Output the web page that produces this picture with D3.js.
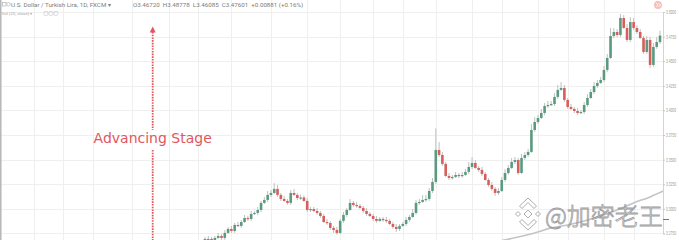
<!DOCTYPE html>
<html>
<head>
<meta charset="utf-8">
<script src="https://cdn.jsdelivr.net/npm/d3@7"></script>
<style>
  html, body { margin: 0; padding: 0; background: #fff; }
  svg { display: block; }
</style>
</head>
<body>
<div id="chart"></div>
<script>
// Daily closes, USD/TRY
var closes = [
  3.2684, 3.2694, 3.2673, 3.2704, 3.2724, 3.2704, 3.2755, 3.2795, 3.2775, 3.2836,
  3.2826, 3.2866, 3.2907, 3.2897, 3.2948, 3.2958, 3.2988, 3.3060, 3.3090, 3.3141,
  3.3161, 3.3202, 3.3141, 3.3100, 3.3080, 3.3060, 3.3161, 3.3141, 3.3110, 3.3115,
  3.3080, 3.2988, 3.2998, 3.2978, 3.2958, 3.2927, 3.2866, 3.2856, 3.2806, 3.2785,
  3.2755, 3.2877, 3.2938, 3.2988, 3.3060, 3.3039, 3.3029, 3.3009, 3.2978, 3.2948,
  3.2927, 3.2897, 3.2877, 3.2897, 3.2887, 3.2877, 3.2846, 3.2816, 3.2795, 3.2826,
  3.2846, 3.2887, 3.2917, 3.2958, 3.3060, 3.3070, 3.3090, 3.3100, 3.3181, 3.3273,
  3.3598, 3.3547, 3.3456, 3.3334, 3.3314, 3.3324, 3.3344, 3.3334, 3.3344, 3.3375,
  3.3425, 3.3466, 3.3415, 3.3395, 3.3354, 3.3293, 3.3242, 3.3202, 3.3161, 3.3181,
  3.3293, 3.3364, 3.3415, 3.3476, 3.3496, 3.3364, 3.3517, 3.3547, 3.3578, 3.3801,
  3.3882, 3.3923, 3.3974, 3.4045, 3.4055, 3.4065, 3.4137, 3.4208, 3.4228, 3.4106,
  3.4035, 3.4015, 3.3994, 3.3974, 3.3984, 3.4055, 3.4126, 3.4187, 3.4248, 3.4279,
  3.4309, 3.4411, 3.4533, 3.4756, 3.4797, 3.4766, 3.4939, 3.4838, 3.4716, 3.4898,
  3.4838, 3.4797, 3.4736, 3.4594, 3.4716, 3.4462, 3.4645, 3.4695, 3.4760
];
var firstOpen = 3.2694;

// shadow lengths above / below the body, in 0.001 units
var wickUp = [
  2, 3, 2, 2, 3, 2, 3, 2, 3, 2,  3, 2, 3, 2, 3, 2, 3, 2, 3, 4,  3, 6, 4, 2, 3, 2, 3, 4, 2, 3,
  2, 3, 2, 2, 3, 2, 2, 3, 2, 2,  3, 2, 3, 2, 4, 2, 3, 2, 2, 3,  2, 2, 3, 2, 2, 3, 2, 2, 3, 2,
  2, 3, 2, 4, 3, 3, 5, 4, 3, 4, 22, 8, 3, 2, 3, 2, 3, 2, 3, 3,  5, 6, 3, 2, 3, 2, 2, 3, 2, 3,
  3, 4, 3, 4, 3, 2, 4, 3, 3, 6,  5, 3, 4, 3, 4, 3, 4, 5, 6, 3,  2, 3, 2, 3, 2, 3, 4, 3, 4, 3,
  3, 4, 4, 8, 4, 3, 4, 3, 4, 5,  4, 3, 3, 2, 4, 3, 4, 5, 5
];
var wickDn = [
  2, 1, 2, 2, 1, 2, 2, 1, 2, 2,  1, 2, 1, 2, 2, 1, 2, 2, 1, 2,  2, 1, 2, 2, 1, 2, 2, 1, 2, 2,
  1, 2, 2, 1, 2, 2, 1, 2, 2, 3,  2, 1, 2, 2, 1, 2, 2, 1, 2, 2,  1, 2, 2, 1, 2, 2, 1, 2, 3, 2,
  1, 2, 2, 1, 2, 2, 1, 2, 2, 2,  2, 2, 2, 1, 2, 2, 1, 2, 2, 1,  2, 2, 1, 2, 2, 1, 2, 2, 3, 2,
  1, 2, 2, 1, 2, 2, 1, 2, 2, 1,  2, 2, 1, 2, 2, 1, 2, 2, 1, 2,  2, 1, 2, 2, 1, 2, 2, 1, 2, 2,
  1, 2, 2, 1, 2, 2, 2, 1, 2, 2,  2, 2, 1, 2, 2, 3, 2, 2, 2
];

// slow moving average, [candle index, value]
var maPoints = [
  [88, 3.2663], [95, 3.2714], [100, 3.2755], [105, 3.2806], [110, 3.2836], [115, 3.2877],
  [120, 3.2927], [125, 3.2988], [130, 3.3060], [135, 3.3121], [139, 3.3181]
];

var priceTicks = [3.5000, 3.4750, 3.4500, 3.4250, 3.4000, 3.3750, 3.3500, 3.3250, 3.3000, 3.2750];
// time grid lines, as candle index
var gridIdx = [-52, -43, -34, -22, -11, -2, 8, 20, 31, 41, 51, 60, 70, 81, 90, 101, 110, 121, 130];

var header = "U.S. Dollar / Turkish Lira, 1D, FXCM \u25BE";
var ohlcText = "O3.46720  H3.48778  L3.46085  C3.47601  +0.00881 (+0.16%)";
var stageLabel = "Advancing Stage";
var watermark = "@\u52A0\u5BC6\u8001\u738B";

var width = 679, height = 240;
var plotRight = 663;

var svg = d3.select("#chart").append("svg")
    .attr("width", width)
    .attr("height", height);

var x = d3.scaleLinear().domain([0, 138]).range([205, 660]);
var y = d3.scaleLinear().domain([3.275, 3.5]).range([233.4, 12]);

var candles = closes.map(function (c, i) {
    var o = i === 0 ? firstOpen : closes[i - 1];
    return {
        i: i, o: o, c: c,
        h: Math.max(o, c) + wickUp[i] * 0.001,
        l: Math.min(o, c) - wickDn[i] * 0.001
    };
});

svg.append("defs").append("clipPath").attr("id", "plotClip")
    .append("rect").attr("x", 0).attr("y", 0).attr("width", plotRight).attr("height", height);

// grid
var grid = svg.append("g");
grid.selectAll(".hg").data(priceTicks).enter().append("line")
    .attr("x1", 0).attr("x2", plotRight)
    .attr("y1", function (d) { return Math.round(y(d)) + 0.5; })
    .attr("y2", function (d) { return Math.round(y(d)) + 0.5; })
    .attr("stroke", "#efefef").attr("stroke-width", 1);
grid.selectAll(".vg").data(gridIdx).enter().append("line")
    .attr("x1", function (d) { return Math.round(x(d)) + 0.5; })
    .attr("x2", function (d) { return Math.round(x(d)) + 0.5; })
    .attr("y1", 0).attr("y2", height)
    .attr("stroke", "#efefef").attr("stroke-width", 1);

// left border
svg.append("line").attr("x1", 0.75).attr("x2", 0.75).attr("y1", 0).attr("y2", height)
    .attr("stroke", "#b4b8b8").attr("stroke-width", 1.5);

var plot = svg.append("g").attr("clip-path", "url(#plotClip)");

// moving average
plot.append("path")
    .datum(maPoints)
    .attr("fill", "none")
    .attr("stroke", "#c4c4c4")
    .attr("stroke-width", 1.6)
    .attr("d", d3.line()
        .curve(d3.curveMonotoneX)
        .x(function (d) { return x(d[0]); })
        .y(function (d) { return y(d[1]); }));

// candles
var up = "#5a9b80", down = "#d45f5c";
var cg = plot.selectAll(".candle").data(candles).enter().append("g");
cg.append("line")
    .attr("x1", function (d) { return x(d.i); })
    .attr("x2", function (d) { return x(d.i); })
    .attr("y1", function (d) { return y(d.h); })
    .attr("y2", function (d) { return y(d.l); })
    .attr("stroke", "#b5bab8").attr("stroke-width", 0.9);
cg.append("rect")
    .attr("x", function (d) { return x(d.i) - 1.3; })
    .attr("width", 2.6)
    .attr("y", function (d) { return y(Math.max(d.o, d.c)); })
    .attr("height", function (d) { return Math.max(1.2, Math.abs(y(d.o) - y(d.c))); })
    .attr("fill", function (d) { return d.c >= d.o ? up : down; });

// right price axis
var axis = svg.append("g").attr("transform", "translate(" + plotRight + ",0)")
    .call(d3.axisRight(y).tickValues(priceTicks).tickSize(2).tickPadding(1)
        .tickFormat(d3.format(".4f")));
axis.select(".domain").attr("stroke", "#d4d4d4");
axis.selectAll(".tick line").attr("stroke", "#c8c8c8");
axis.selectAll(".tick text").attr("fill", "#9a9a9a")
    .attr("textLength", 10).attr("lengthAdjust", "spacingAndGlyphs")
    .style("font-family", "Roboto, 'Liberation Sans', sans-serif").style("font-size", "4.6px");
svg.append("line").attr("x1", plotRight).attr("x2", plotRight + 6)
    .attr("y1", 219.5).attr("y2", 219.5).attr("stroke", "#777").attr("stroke-width", 1);

// header lines
var hdr = svg.append("g").style("font-family", "Roboto, 'Liberation Sans', sans-serif");
hdr.append("rect").attr("x", 2.5).attr("y", 2.5).attr("width", 3.5).attr("height", 3.5)
    .attr("fill", "none").attr("stroke", "#aaa").attr("stroke-width", 0.6);
hdr.append("circle").attr("cx", 8.5).attr("cy", 4.3).attr("r", 1.8)
    .attr("fill", "none").attr("stroke", "#aaa").attr("stroke-width", 0.6);
hdr.append("text").attr("x", 11).attr("y", 6.5).text(header)
    .attr("fill", "#7d7d7d").style("font-size", "6.2px");
hdr.append("text").attr("x", 133).attr("y", 6.5).text(ohlcText)
    .attr("fill", "#7d7d7d").style("font-size", "6.2px").style("white-space", "pre")
    .attr("xml:space", "preserve");
hdr.append("text").attr("x", 1.5).attr("y", 15).text("Vol (20, close) \u25BE")
    .attr("fill", "#a8a8a8").style("font-size", "4.4px");
hdr.selectAll(".ib").data([0, 1, 2]).enter().append("rect")
    .attr("x", function (d) { return 44 + d * 5; }).attr("y", 11.5)
    .attr("width", 3.8).attr("height", 3.8).attr("rx", 0.6)
    .attr("fill", "none").attr("stroke", "#b8b8b8").attr("stroke-width", 0.5);

// top-right icon
svg.append("circle").attr("cx", 658).attr("cy", 5).attr("r", 4)
    .attr("fill", "#f6c0ba");
svg.append("path").attr("d", "M656,3 l2,2 l-2,2 M658.5,3 l2,2 l-2,2")
    .attr("fill", "none").attr("stroke", "#fff").attr("stroke-width", 0.8);

// advancing stage arrow
var red = "#e0585d";
var ax = 152.7;
var arrow = svg.append("g");
arrow.append("line").attr("x1", ax).attr("x2", ax).attr("y1", 32).attr("y2", 130)
    .attr("stroke", red).attr("stroke-width", 1.8).attr("stroke-dasharray", "1.6,1.1");
arrow.append("line").attr("x1", ax).attr("x2", ax).attr("y1", 150).attr("y2", height)
    .attr("stroke", red).attr("stroke-width", 1.8).attr("stroke-dasharray", "1.6,1.1");
arrow.append("path")
    .attr("d", "M" + ax + ",26.5 L" + (ax + 3) + ",32.5 L" + (ax - 3) + ",32.5 Z")
    .attr("fill", red);
svg.append("text").attr("x", ax).attr("y", 143.3).attr("text-anchor", "middle")
    .text(stageLabel)
    .attr("fill", red)
    .style("font-family", "'DejaVu Sans', Verdana, sans-serif").style("font-size", "14px");

// watermark
var wm = svg.append("g").attr("opacity", 0.8);
var lg = wm.append("g").attr("transform", "translate(528,214)")
    .attr("fill", "none").attr("stroke", "#9a9a9a").attr("stroke-width", 1);
lg.append("path").attr("d", "M0,-4 L4,0 L0,4 L-4,0 Z");
lg.append("path").attr("d", "M-10,-2.5 L-7.5,0 L-10,2.5 L-12.5,0 Z");
lg.append("path").attr("d", "M10,-2.5 L12.5,0 L10,2.5 L7.5,0 Z");
lg.append("path").attr("d", "M-6,-5.5 L0,-11.5 L6,-5.5 L8.5,-8 L0,-16 L-8.5,-8 Z");
lg.append("path").attr("d", "M-6,5.5 L0,11.5 L6,5.5 L8.5,8 L0,16 L-8.5,8 Z");
wm.append("text").attr("x", 545).attr("y", 225).text(watermark)
    .attr("fill", "#ffffff").attr("fill-opacity", 0.6)
    .attr("stroke", "#878787").attr("stroke-width", 0.8)
    .style("font-family", "'Noto Sans CJK SC', sans-serif").style("font-weight", 300)
    .style("font-size", "24px");
</script>
</body>
</html>
